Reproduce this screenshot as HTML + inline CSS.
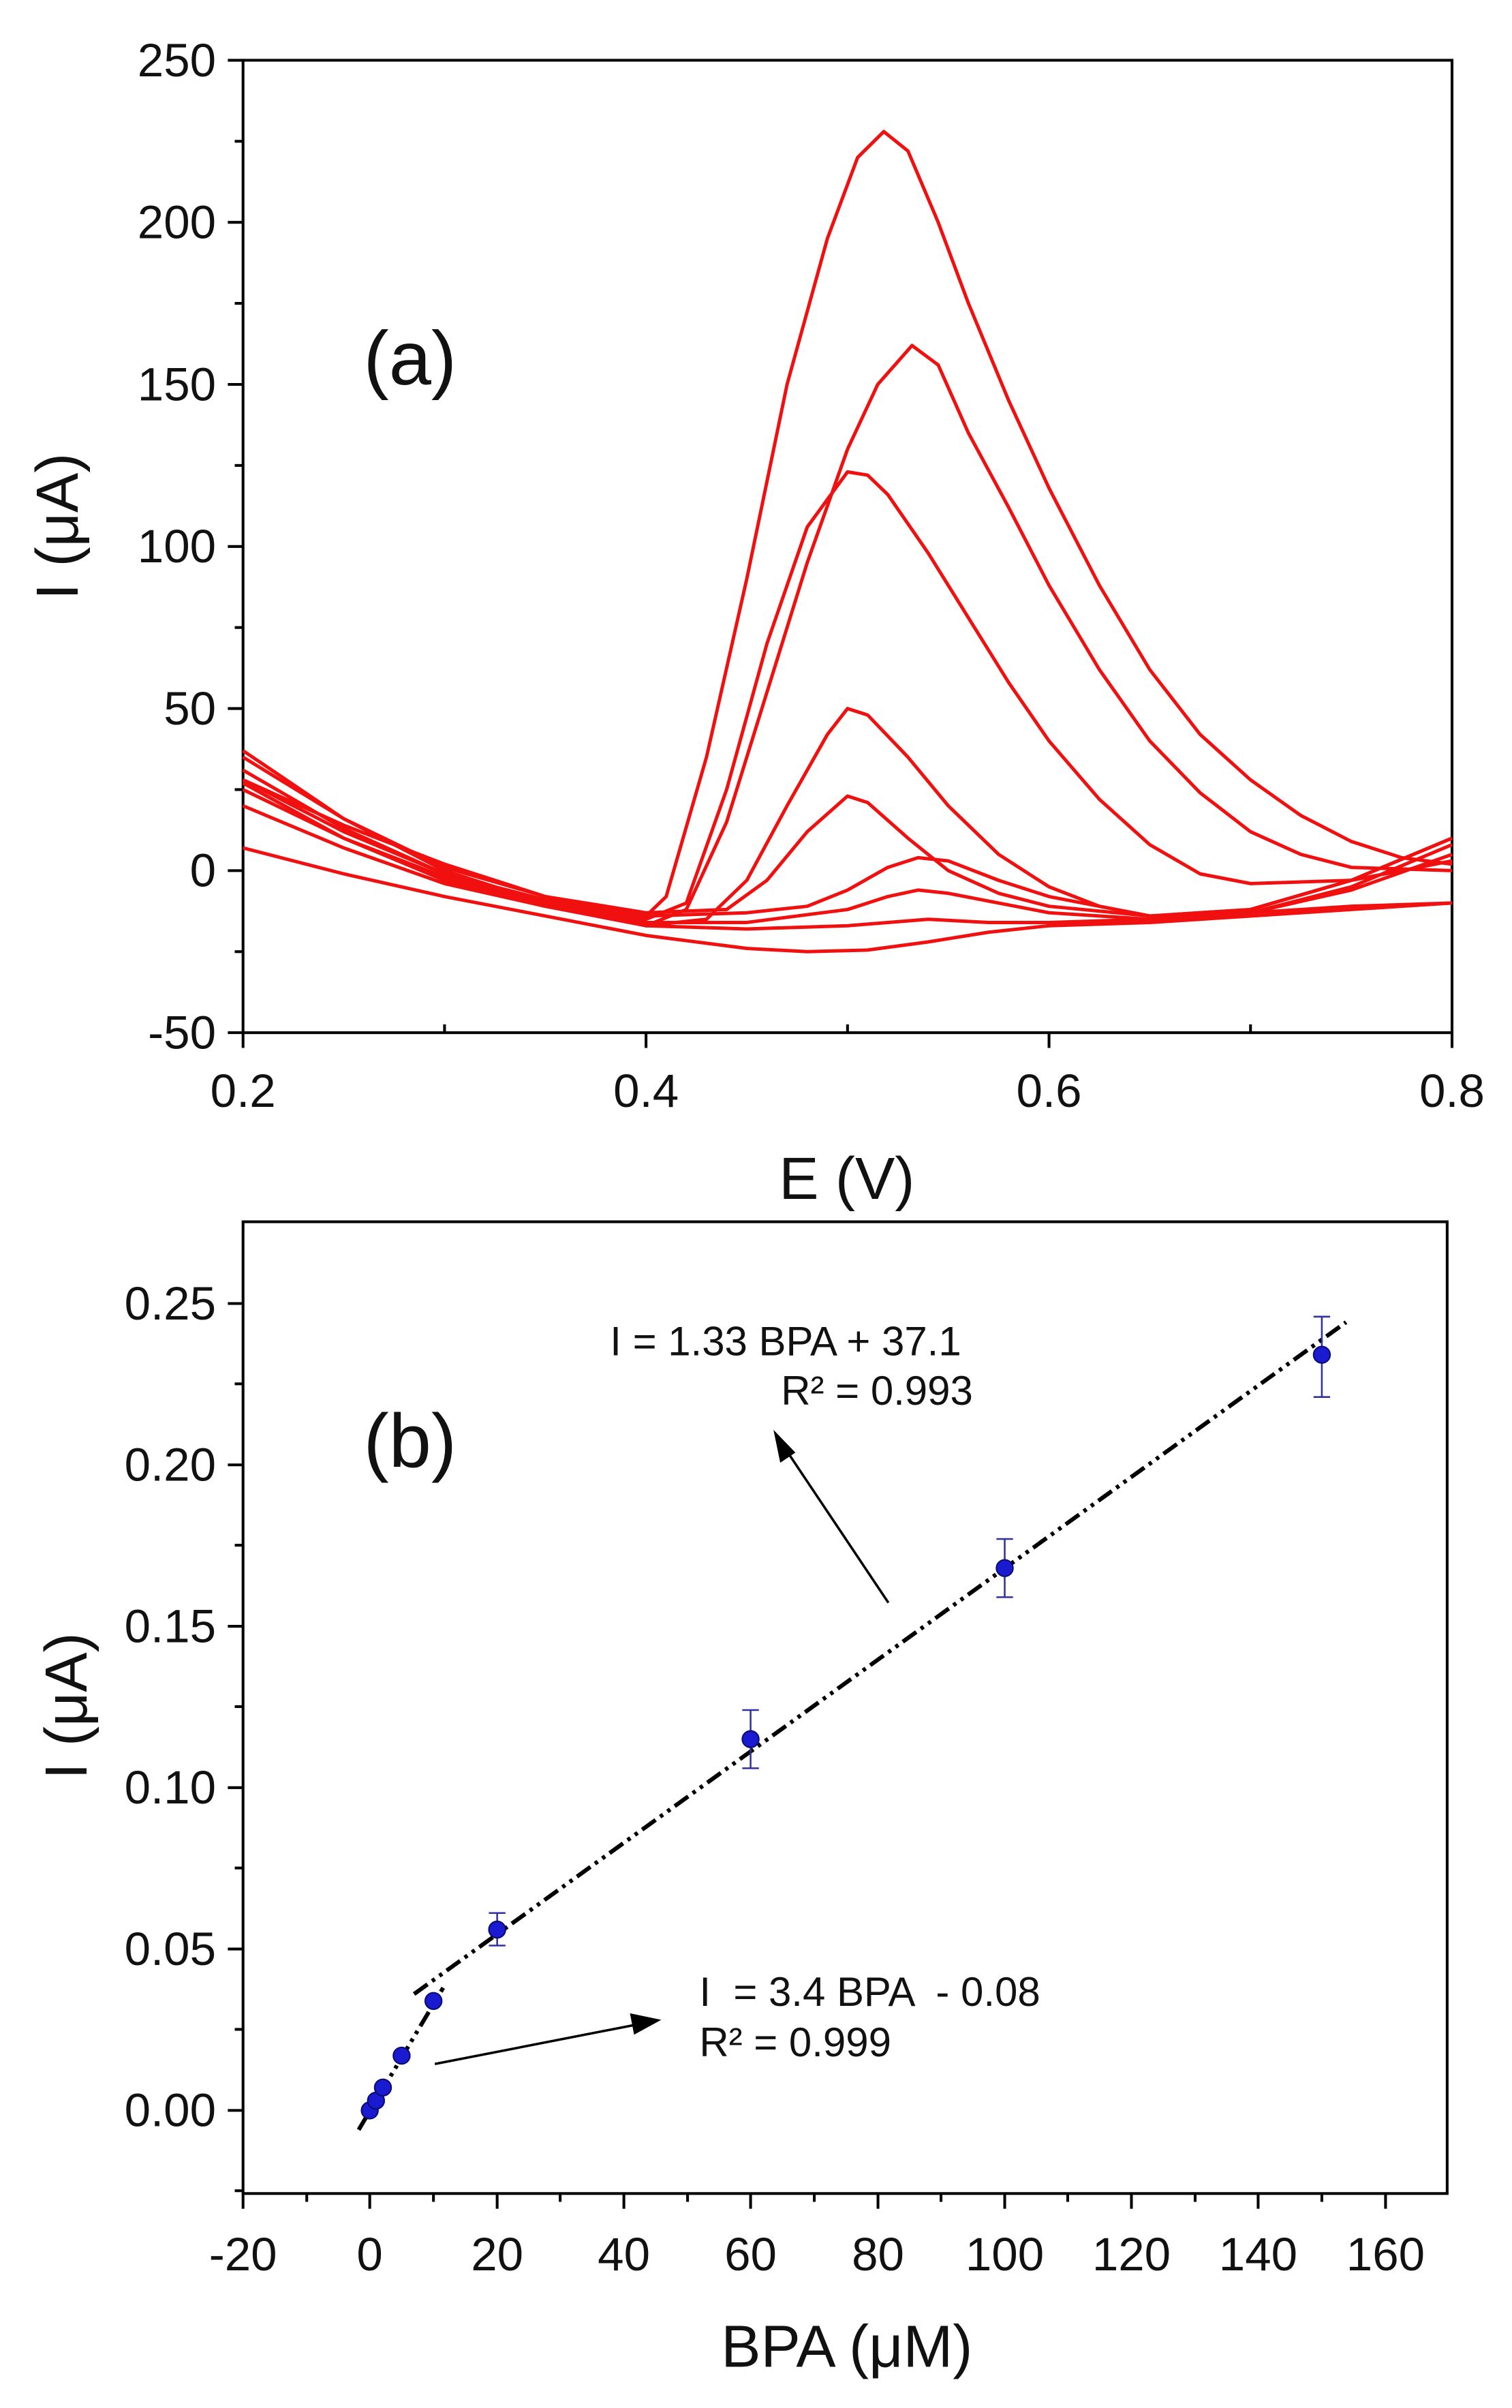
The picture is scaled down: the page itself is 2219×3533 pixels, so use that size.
<!DOCTYPE html>
<html><head><meta charset="utf-8"><style>html,body{margin:0;padding:0;background:#fff}svg{display:block}text{font-family:"Liberation Sans",sans-serif;fill:#111;white-space:pre}</style></head>
<body>
<svg width="2219" height="3533" viewBox="0 0 2219 3533" xmlns="http://www.w3.org/2000/svg">
<rect width="2219" height="3533" fill="#fff"/>
<g transform="scale(1.0162)">
<!-- Panel a -->
<rect x="351" y="87" width="1746" height="1404" fill="none" stroke="#000" stroke-width="4"/>
<g stroke="#000" stroke-width="4">
<line x1="329" y1="87" x2="351" y2="87"/><line x1="329" y1="321" x2="351" y2="321"/><line x1="329" y1="555" x2="351" y2="555"/><line x1="329" y1="789" x2="351" y2="789"/><line x1="329" y1="1023" x2="351" y2="1023"/><line x1="329" y1="1257" x2="351" y2="1257"/><line x1="329" y1="1491" x2="351" y2="1491"/>
<line x1="339" y1="204" x2="351" y2="204"/><line x1="339" y1="438" x2="351" y2="438"/><line x1="339" y1="672" x2="351" y2="672"/><line x1="339" y1="906" x2="351" y2="906"/><line x1="339" y1="1140" x2="351" y2="1140"/><line x1="339" y1="1374" x2="351" y2="1374"/>
<line x1="351" y1="1491" x2="351" y2="1513"/><line x1="933" y1="1491" x2="933" y2="1513"/><line x1="1515" y1="1491" x2="1515" y2="1513"/><line x1="2097" y1="1491" x2="2097" y2="1513"/>
<line x1="642" y1="1491" x2="642" y2="1479"/><line x1="1224" y1="1491" x2="1224" y2="1479"/><line x1="1806" y1="1491" x2="1806" y2="1479"/>
</g>
<g font-size="68" text-anchor="end">
<text x="312" y="110">250</text><text x="312" y="344">200</text><text x="312" y="578">150</text><text x="312" y="812">100</text><text x="312" y="1046">50</text><text x="312" y="1280">0</text><text x="312" y="1514">-50</text>
</g>
<g font-size="68" text-anchor="middle">
<text x="351" y="1598">0.2</text><text x="933" y="1598">0.4</text><text x="1515" y="1598">0.6</text><text x="2097" y="1598">0.8</text>
</g>
<text x="1223" y="1731" font-size="86" text-anchor="middle">E (V)</text>
<text transform="translate(112,760) rotate(-90)" font-size="86" text-anchor="middle">I (μA)</text>
<text x="525" y="555" font-size="110">(a)</text>
<g transform="translate(351,1491) scale(2910,-4.68) translate(-0.2,50)" fill="none" stroke="#f01010" stroke-width="5" stroke-linejoin="round">
<polyline vector-effect="non-scaling-stroke" points="0.2,28 0.25,14 0.3,2 0.35,-8 0.4,-14 0.41,-8 0.43,35 0.45,90 0.47,150 0.49,195 0.505,220 0.518,228 0.53,222 0.545,200 0.56,175 0.58,145 0.6,118 0.625,88 0.65,62 0.675,42 0.7,28 0.725,17 0.75,9 0.775,4 0.8,2"/>
<polyline vector-effect="non-scaling-stroke" points="0.2,35 0.25,16 0.3,0 0.35,-10 0.4,-17 0.42,-12 0.44,15 0.46,55 0.48,95 0.5,130 0.515,150 0.532,162 0.545,156 0.56,135 0.58,112 0.6,88 0.625,62 0.65,40 0.675,24 0.7,12 0.725,5 0.75,1 0.8,0"/>
<polyline vector-effect="non-scaling-stroke" points="0.2,25 0.25,10 0.3,-2 0.35,-10 0.4,-15 0.42,-10 0.44,25 0.46,70 0.48,106 0.5,123 0.51,122 0.52,116 0.54,98 0.56,78 0.58,58 0.6,40 0.625,22 0.65,8 0.675,-1 0.7,-4 0.75,-3 0.8,3"/>
<polyline vector-effect="non-scaling-stroke" points="0.2,31 0.25,13 0.3,-1 0.35,-10 0.4,-17 0.43,-15 0.45,-3 0.47,20 0.49,42 0.5,50 0.51,48 0.53,35 0.55,20 0.575,5 0.6,-5 0.625,-11 0.65,-14 0.7,-12 0.75,-3 0.8,10"/>
<polyline vector-effect="non-scaling-stroke" points="0.2,37 0.25,16 0.3,1 0.35,-8 0.4,-13 0.44,-12 0.46,-3 0.48,12 0.5,23 0.51,21 0.53,10 0.55,0 0.575,-7 0.6,-11 0.65,-14 0.7,-12 0.75,-3 0.8,10"/>
<polyline vector-effect="non-scaling-stroke" points="0.2,28 0.25,12 0.3,-1 0.35,-9 0.4,-14 0.45,-13 0.48,-11 0.5,-6 0.52,1 0.535,4 0.55,3 0.575,-3 0.6,-8 0.65,-14 0.7,-13 0.75,-5 0.8,8"/>
<polyline vector-effect="non-scaling-stroke" points="0.2,20 0.25,7 0.3,-4 0.35,-11 0.4,-16 0.45,-16 0.5,-12 0.52,-8 0.535,-6 0.55,-7 0.575,-10 0.6,-13 0.65,-15 0.7,-13 0.75,-6 0.8,5"/>
<polyline vector-effect="non-scaling-stroke" points="0.2,27 0.25,10 0.3,-3 0.35,-11 0.4,-17 0.45,-18 0.5,-17 0.54,-15 0.57,-16 0.6,-16 0.65,-15 0.7,-13 0.75,-11 0.8,-10"/>
<polyline vector-effect="non-scaling-stroke" points="0.2,7 0.25,-1 0.3,-8 0.35,-14 0.4,-20 0.45,-24 0.48,-25 0.51,-24.5 0.54,-22 0.57,-19 0.6,-17 0.65,-16 0.7,-14 0.75,-12 0.8,-10"/>
</g>
<!-- Panel b -->
<rect x="351" y="1764" width="1739" height="1403" fill="none" stroke="#000" stroke-width="4"/>
<g stroke="#000" stroke-width="4">
<line x1="329" y1="1882" x2="351" y2="1882"/><line x1="329" y1="2115" x2="351" y2="2115"/><line x1="329" y1="2348" x2="351" y2="2348"/><line x1="329" y1="2581" x2="351" y2="2581"/><line x1="329" y1="2814" x2="351" y2="2814"/><line x1="329" y1="3047" x2="351" y2="3047"/>
<line x1="339" y1="1998" x2="351" y2="1998"/><line x1="339" y1="2231" x2="351" y2="2231"/><line x1="339" y1="2464" x2="351" y2="2464"/><line x1="339" y1="2697" x2="351" y2="2697"/><line x1="339" y1="2930" x2="351" y2="2930"/><line x1="339" y1="3163" x2="351" y2="3163"/>
<line x1="351" y1="3167" x2="351" y2="3189"/><line x1="534" y1="3167" x2="534" y2="3189"/><line x1="718" y1="3167" x2="718" y2="3189"/><line x1="901" y1="3167" x2="901" y2="3189"/><line x1="1084" y1="3167" x2="1084" y2="3189"/><line x1="1268" y1="3167" x2="1268" y2="3189"/><line x1="1451" y1="3167" x2="1451" y2="3189"/><line x1="1634" y1="3167" x2="1634" y2="3189"/><line x1="1817" y1="3167" x2="1817" y2="3189"/><line x1="2001" y1="3167" x2="2001" y2="3189"/>
<line x1="443" y1="3167" x2="443" y2="3179"/><line x1="626" y1="3167" x2="626" y2="3179"/><line x1="809" y1="3167" x2="809" y2="3179"/><line x1="993" y1="3167" x2="993" y2="3179"/><line x1="1176" y1="3167" x2="1176" y2="3179"/><line x1="1359" y1="3167" x2="1359" y2="3179"/><line x1="1542" y1="3167" x2="1542" y2="3179"/><line x1="1726" y1="3167" x2="1726" y2="3179"/><line x1="1909" y1="3167" x2="1909" y2="3179"/>
</g>
<g font-size="68" text-anchor="end">
<text x="312" y="1905">0.25</text><text x="312" y="2138">0.20</text><text x="312" y="2371">0.15</text><text x="312" y="2604">0.10</text><text x="312" y="2837">0.05</text><text x="312" y="3070">0.00</text>
</g>
<g font-size="68" text-anchor="middle">
<text x="351" y="3278">-20</text><text x="534" y="3278">0</text><text x="718" y="3278">20</text><text x="901" y="3278">40</text><text x="1084" y="3278">60</text><text x="1268" y="3278">80</text><text x="1451" y="3278">100</text><text x="1634" y="3278">120</text><text x="1817" y="3278">140</text><text x="2001" y="3278">160</text>
</g>
<text x="1223" y="3417" font-size="86" text-anchor="middle">BPA (μM)</text>
<text transform="translate(125,2463) rotate(-90)" font-size="86" text-anchor="middle">I (μA)</text>
<text x="525" y="2118" font-size="110">(b)</text>
<g fill="none" stroke="#000" stroke-width="6" stroke-dasharray="24,8,5,8,5,8">
<line x1="518" y1="3075" x2="640" y2="2870"/>
<line x1="598" y1="2879" x2="1944" y2="1909"/>
</g>
<g stroke="#3030a0" stroke-width="2.5">
<line x1="718" y1="2809" x2="718" y2="2762"/><line x1="706" y1="2809" x2="730" y2="2809"/><line x1="706" y1="2762" x2="730" y2="2762"/>
<line x1="1084" y1="2553" x2="1084" y2="2469"/><line x1="1072" y1="2553" x2="1096" y2="2553"/><line x1="1072" y1="2469" x2="1096" y2="2469"/>
<line x1="1451" y1="2306" x2="1451" y2="2222"/><line x1="1439" y1="2306" x2="1463" y2="2306"/><line x1="1439" y1="2222" x2="1463" y2="2222"/>
<line x1="1909" y1="2017" x2="1909" y2="1901"/><line x1="1897" y1="2017" x2="1921" y2="2017"/><line x1="1897" y1="1901" x2="1921" y2="1901"/>
</g>
<g fill="#1a1ad0" stroke="#0a0a70" stroke-width="2">
<circle cx="534" cy="3047" r="12"/><circle cx="543" cy="3033" r="12"/><circle cx="553" cy="3014" r="12"/><circle cx="580" cy="2968" r="12"/><circle cx="626" cy="2889" r="12"/><circle cx="718" cy="2786" r="12"/><circle cx="1084" cy="2511" r="12"/><circle cx="1451" cy="2264" r="12"/><circle cx="1909" cy="1956" r="12"/>
</g>
<g stroke="#000" stroke-width="3.5" fill="#000">
<line x1="628" y1="2980" x2="930" y2="2921"/>
<polygon points="950,2917 912,2909 917,2935"/>
<line x1="1283" y1="2314" x2="1131" y2="2087"/>
<polygon points="1120,2070 1128,2109 1146,2097"/>
</g>
<g font-size="59">
<text x="881" y="1957">I = 1.33 BPA + 37.1</text>
<text x="1128" y="2028">R² = 0.993</text>
<text x="1010" y="2896">I  = 3.4 BPA  - 0.08</text>
<text x="1010" y="2969">R² = 0.999</text>
</g>
</g>
</svg>
</body></html>
